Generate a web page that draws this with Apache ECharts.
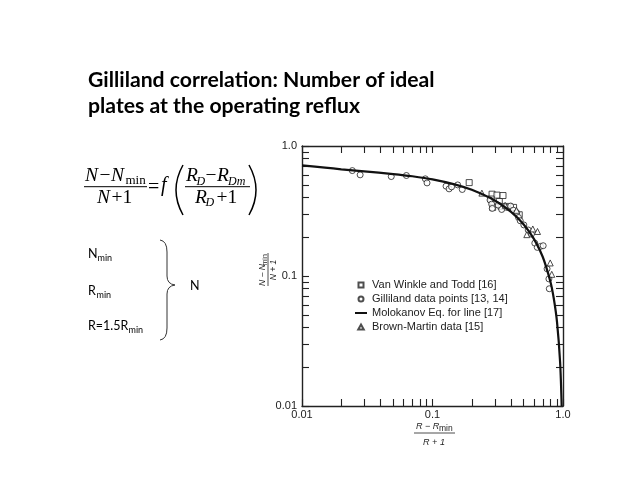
<!DOCTYPE html>
<html>
<head>
<meta charset="utf-8">
<script src="https://cdn.jsdelivr.net/npm/echarts@6/dist/echarts.min.js"></script>
<style>
html,body{margin:0;padding:0;background:#fff;}
#c{width:638px;height:493px;}
</style>
</head>
<body>
<div id="c"></div>
<script>
// ---- data ----
const majorTicks = [0.01, 0.1, 1];
const minorTicks = [0.02,0.03,0.04,0.05,0.06,0.07,0.08,0.09,0.2,0.3,0.4,0.5,0.6,0.7,0.8,0.9];

// Van Winkle and Todd [16] (squares)
const vwX = [0.191, 0.286, 0.312, 0.347, 0.281, 0.325, 0.289, 0.336, 0.385, 0.418, 0.462];
const vwY = [0.523, 0.426, 0.419, 0.416, 0.391, 0.374, 0.337, 0.343, 0.343, 0.337, 0.296];

// Gilliland data points [13, 14] (circles)
const gX = [0.0243,0.0279,0.0483,0.0631,0.0881,0.0908,0.127,0.134,0.140,0.156,0.169,0.276,0.284,0.287,0.319,0.339,0.370,0.397,0.416,0.442,0.456,0.470,0.501,0.541,0.573,0.608,0.635,0.673,0.705,0.755,0.780,0.785];
const gY = [0.647,0.600,0.582,0.593,0.559,0.520,0.491,0.468,0.485,0.502,0.463,0.384,0.357,0.331,0.351,0.325,0.337,0.345,0.321,0.307,0.282,0.266,0.247,0.226,0.210,0.179,0.166,0.169,0.171,0.1136,0.095,0.0798];

// Brown-Martin data [15] (triangles)
const bmX = [0.239, 0.360, 0.440, 0.528, 0.587, 0.638, 0.798, 0.820];
const bmY = [0.434, 0.350, 0.320, 0.208, 0.230, 0.220, 0.126, 0.103];

// Molokanov Eq. for line [17] (curve)
const molX = [0.01,0.015,0.02,0.03,0.05,0.07,0.1,0.15,0.2,0.3,0.4,0.5,0.6,0.7,0.8,0.85,0.9,0.95,0.977];
const molY = [0.71,0.682,0.662,0.638,0.608,0.585,0.554,0.505,0.46,0.381,0.311,0.249,0.192,0.14,0.0907,0.0671,0.0442,0.0218,0.0100];

const seriesNames = ['Van Winkle and Todd [16]','Gilliland data points [13, 14]','Molokanov Eq. for line [17]','Brown-Martin data [15]'];

// ---- chart ----
const ink = '#222';
const pair = (xs, ys) => xs.map((x, i) => [x, ys[i]]);
const fmt = v => (v === 1 ? '1.0' : String(v));

function logAxis(pos, opts) {
  return Object.assign({
    type: 'log', logBase: 10, min: 0.01, max: 1, position: pos,
    gridIndex: 0, splitLine: {show: false},
    axisLine: {show: true, lineStyle: {color: ink, width: 1.4}},
    axisTick: {show: true, inside: true, length: 7, lineStyle: {color: ink, width: 1.1}, customValues: majorTicks.concat(minorTicks)},
    axisLabel: {show: false}
  }, opts);
}
const labelStyle = {show: true, color: ink, fontSize: 11, fontFamily: 'Liberation Sans', formatter: fmt, customValues: majorTicks};

const chart = echarts.init(document.getElementById('c'), null, {renderer: 'canvas'});

const T = (text, x, y, font, extra) => ({type: 'text', x, y, silent: true,
  style: Object.assign({text, font, fill: '#000', align: 'left', verticalAlign: 'middle'}, extra || {})});
const L = (x1, y1, x2, y2, w, c) => ({type: 'line', silent: true, shape: {x1, y1, x2, y2}, style: {stroke: c || '#000', lineWidth: w || 1}});
const Q = (x1, y1, cx, cy, x2, y2, w, c) => ({type: 'bezierCurve', silent: true,
  shape: {x1, y1, x2, y2, cpx1: cx, cpy1: cy}, style: {stroke: c || '#000', lineWidth: w || 1, fill: null}});

const serifI = s => 'italic ' + s + 'px "Liberation Serif"';
const serif = s => s + 'px "Liberation Serif"';
const lato = s => s + 'px Lato';

chart.setOption({
  backgroundColor: '#fff',
  animation: false,
  grid: {left: 302, top: 146, right: 75, bottom: 87, containLabel: false, outerBoundsMode: 'none'},
  xAxis: [
    logAxis('bottom', {axisLabel: Object.assign({margin: 3}, labelStyle)}),
    logAxis('top', {})
  ],
  yAxis: [
    logAxis('left', {axisLabel: Object.assign({margin: 5}, labelStyle)}),
    logAxis('right', {})
  ],
  legend: {
    orient: 'vertical', left: 350, top: 274, itemWidth: 12, itemHeight: 5, itemGap: 2,
    textStyle: {color: ink, fontSize: 11, fontFamily: 'Liberation Sans', lineHeight: 12},
    data: [
      {name: seriesNames[0], icon: 'path://M0,0H10V10H0Z'},
      {name: seriesNames[1], icon: 'circle'},
      {name: seriesNames[2], icon: 'path://M0,0H12V2H0Z'},
      {name: seriesNames[3], icon: 'path://M5,0L10,9H0Z'}
    ]
  },
  series: [
    {name: seriesNames[0], type: 'scatter', data: pair(vwX, vwY), symbol: 'rect', symbolSize: 6,
      itemStyle: {color: '#fff', borderColor: ink, borderWidth: 1}, z: 3},
    {name: seriesNames[1], type: 'scatter', data: pair(gX, gY), symbol: 'circle', symbolSize: 6,
      itemStyle: {color: '#fff', borderColor: ink, borderWidth: 1}, z: 3},
    {name: seriesNames[2], type: 'line', data: pair(molX, molY), symbol: 'none', smooth: 0.3,
      lineStyle: {color: '#111', width: 2.2}, itemStyle: {color: '#111'}, z: 4},
    {name: seriesNames[3], type: 'scatter', data: pair(bmX, bmY), symbol: 'triangle', symbolSize: 6,
      itemStyle: {color: '#fff', borderColor: ink, borderWidth: 1}, z: 3}
  ],
  graphic: [
    // slide title
    T('Gilliland correlation: Number of ideal', 88, 80.4, 'bold 21.2px Lato'),
    T('plates at the operating reflux', 88, 106.4, 'bold 21.2px Lato'),
    // formula left fraction
    T('N', 85, 175.7, serifI(19.5)),
    T('\u2212', 99.5, 175.7, serif(19.5)),
    T('N', 111, 175.7, serifI(19.5)),
    T('min', 125.5, 180.2, serif(13)),
    L(84, 186.7, 147, 186.7),
    T('N', 97, 198, serifI(19.5)),
    T('+1', 111.5, 198, serif(19.5)),
    T('=', 148, 187.5, serif(20)),
    T('f', 161, 186, serifI(20)),
    Q(183, 165, 169, 190, 183, 215, 1.5),
    Q(249, 165, 263, 190, 249, 215, 1.5),
    // formula right fraction
    T('R', 186, 175.7, serifI(19.5)),
    T('D', 196.5, 182, serifI(12)),
    T('\u2212', 205.5, 175.7, serif(19.5)),
    T('R', 217, 175.7, serifI(19.5)),
    T('Dm', 228, 182, serifI(12)),
    L(185, 186.7, 250, 186.7),
    T('R', 195, 198, serifI(19.5)),
    T('D', 205.5, 202.6, serifI(12)),
    T('+1', 216.5, 198, serif(19.5)),
    // left labels
    T('N', 88, 254, lato(12.5)),
    T('min', 97.5, 258.5, lato(9)),
    T('R', 88, 291, lato(12.5)),
    T('min', 96.5, 295.5, lato(9)),
    T('R=1.5R', 88, 326, lato(12.5)),
    T('min', 128.5, 330.5, lato(9)),
    // brace
    Q(160, 240, 167, 241, 167, 252, 1, '#333'),
    L(167, 252, 167, 276, 1, '#333'),
    Q(167, 276, 167, 284, 175, 285, 1, '#333'),
    Q(175, 285, 167, 286, 167, 294, 1, '#333'),
    L(167, 294, 167, 328, 1, '#333'),
    Q(167, 328, 167, 339, 160, 340, 1, '#333'),
    T('N', 190, 286, lato(12.5)),
    // y-axis title (rotated fraction)
    {type: 'group', x: 268, y: 270, rotation: Math.PI / 2, silent: true, children: [
      T('N \u2212 N', -16, -5, 'italic 8.5px "Liberation Sans"', {fill: ink}),
      T('min', 4.5, -3, '7px "Liberation Sans"', {fill: ink}),
      L(-16, 0, 17, 0, 0.8, ink),
      T('N + 1', 0, 5.5, 'italic 8.5px "Liberation Sans"', {fill: ink, align: 'center'})
    ]},
    // x-axis title
    T('R \u2212 R', 416, 426, 'italic 9px "Liberation Sans"', {fill: ink}),
    T('min', 439, 429, '8.5px "Liberation Sans"', {fill: ink}),
    L(414, 433, 455, 433, 0.8, ink),
    T('R + 1', 434, 442, 'italic 9px "Liberation Sans"', {fill: ink, align: 'center'})
  ]
});
</script>
</body>
</html>
